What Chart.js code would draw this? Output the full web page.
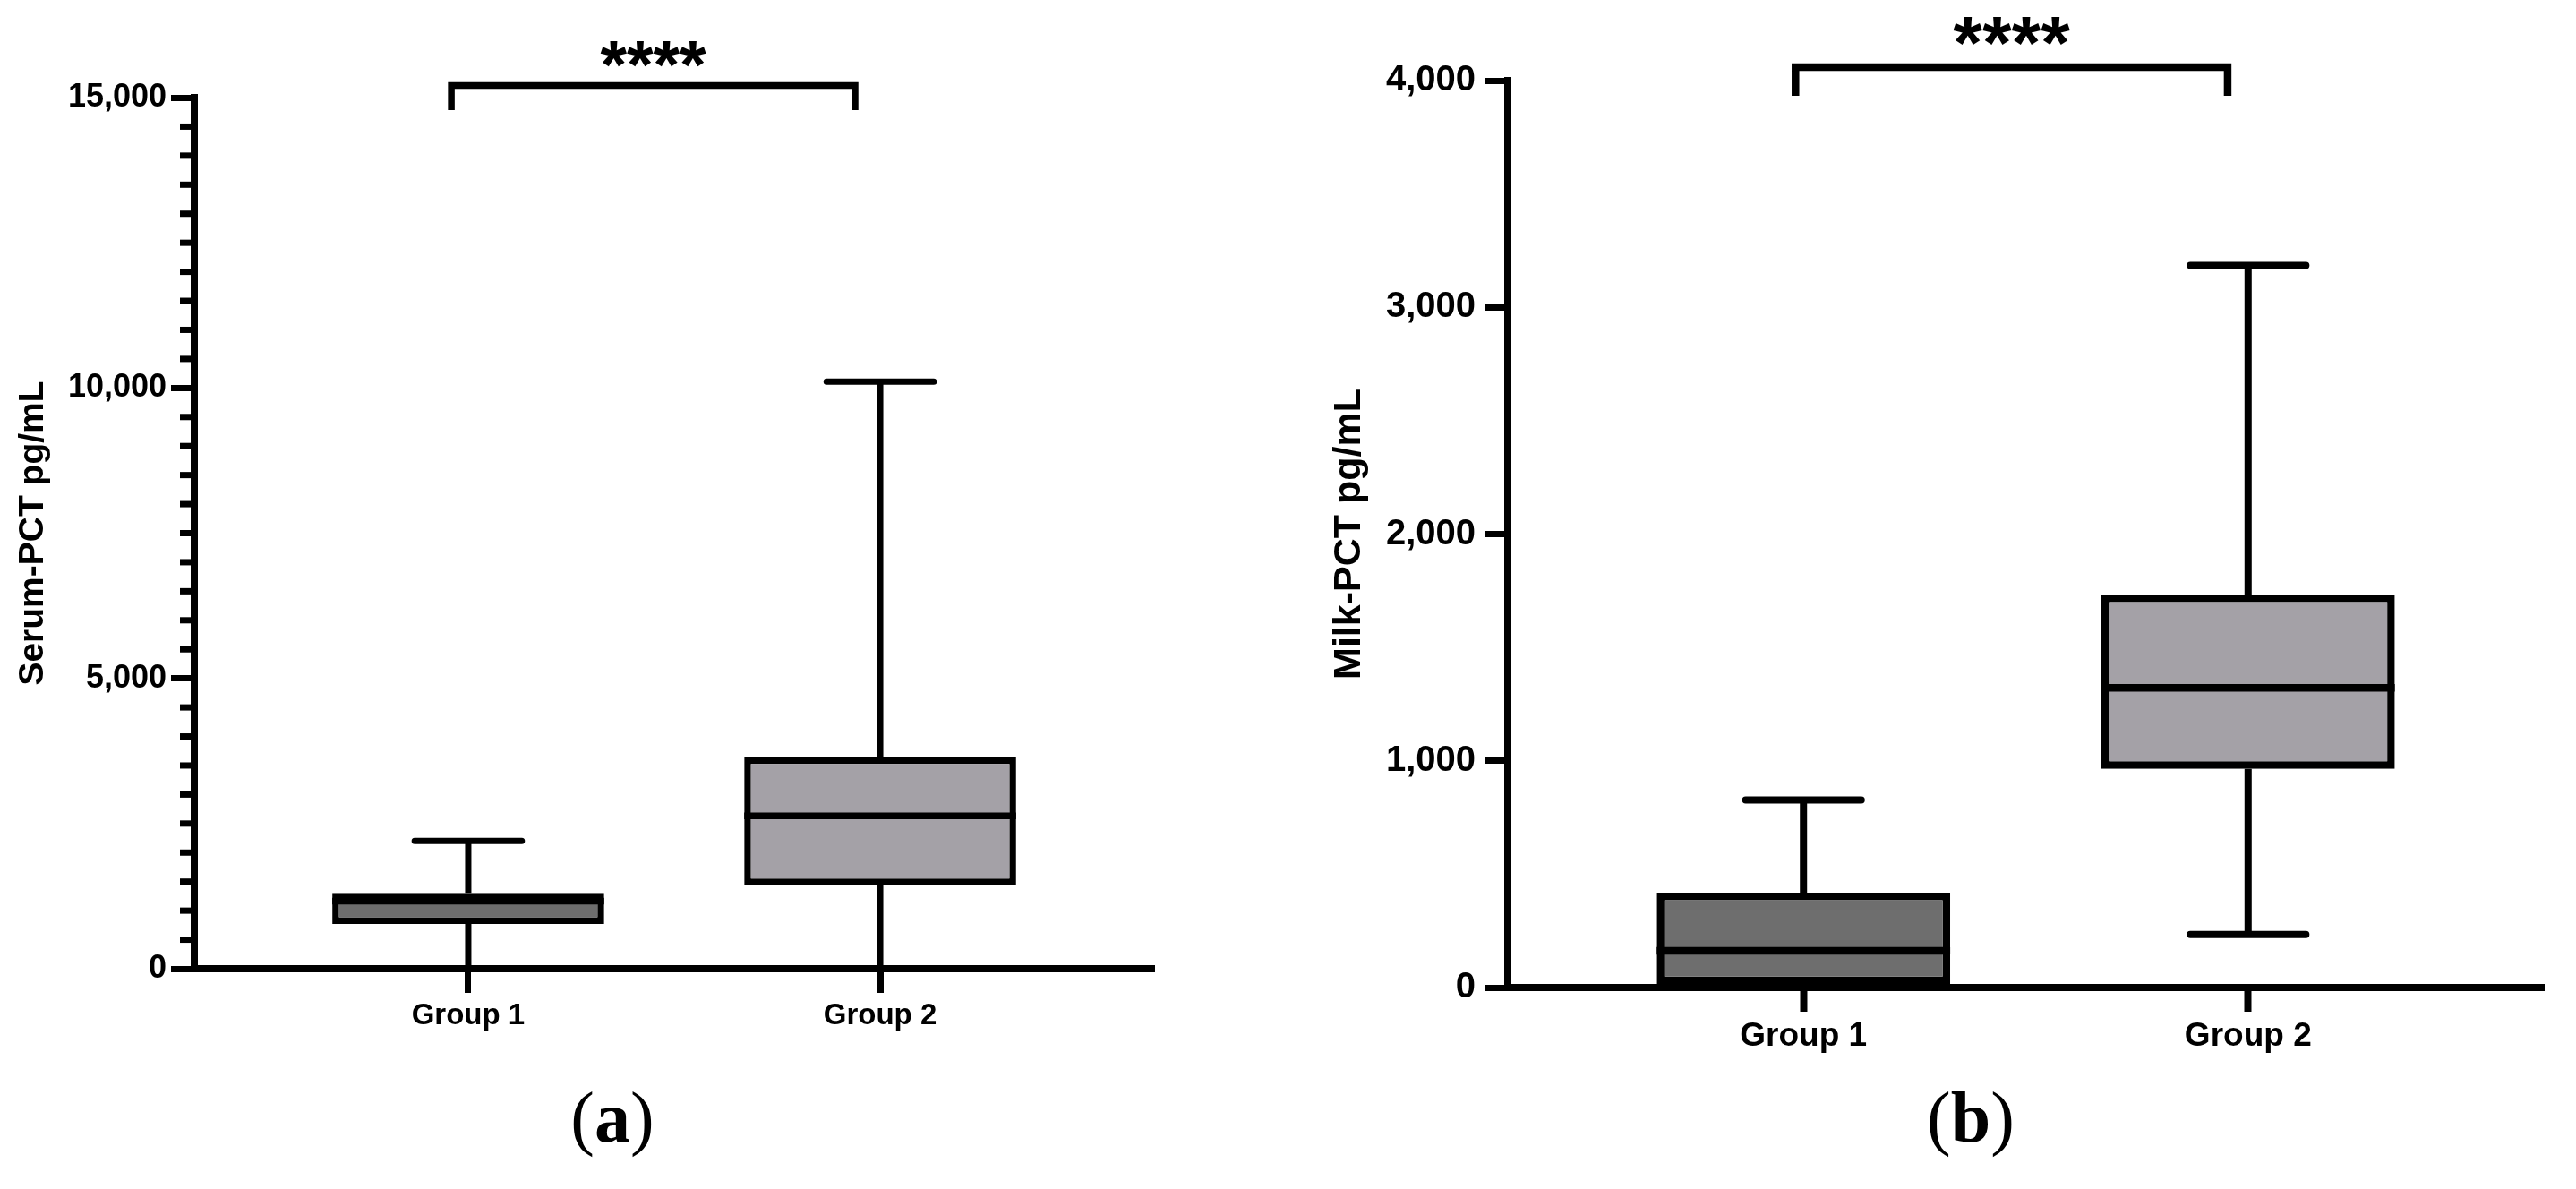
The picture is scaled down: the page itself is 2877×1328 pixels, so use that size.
<!DOCTYPE html>
<html>
<head>
<meta charset="utf-8">
<script src="https://cdn.jsdelivr.net/npm/chart.js@4.4.1/dist/chart.umd.min.js"></script>
<style>
  html, body { margin: 0; padding: 0; background: #fff; }
  body { width: 2877px; height: 1328px; position: relative; overflow: hidden; }
  canvas { position: absolute; top: 0; }
  #chartA { left: 0; }
  #chartB { left: 1450px; }
  .panel-label {
    position: absolute; width: 200px; text-align: center; color: #000;
    font-family: "Liberation Serif", "Times New Roman", serif;
    font-size: 80px; line-height: 80px;
  }
</style>
</head>
<body>
<canvas id="chartA" width="1450" height="1200"></canvas>
<canvas id="chartB" width="1427" height="1200"></canvas>
<div class="panel-label" style="left:584px; top:1208px;">(<b>a</b>)</div>
<div class="panel-label" style="left:2101px; top:1208px;">(<b>b</b>)</div>
<script>
const categories = ['Group 1', 'Group 2'];

// (a) Serum-PCT pg/mL
const serumMin = [0, 0];
const serumQ1 = [770, 1437];
const serumMedian = [1164, 2634];
const serumQ3 = [1308, 3642];
const serumMax = [2200, 10110];
const serumTicks = [0, 5000, 10000, 15000];

// (b) Milk-PCT pg/mL
const milkMin = [10, 234];
const milkQ1 = [15, 964];
const milkMedian = [162, 1322];
const milkQ3 = [419, 1733];
const milkMax = [827, 3185];
const milkTicks = [0, 1000, 2000, 3000, 4000];

// significance bracket: x in group units, y = [leg end, bar] in pg/mL
const serumBracketX = [0.959, 1.939];
const serumBracketY = [14784, 15208];
const milkBracketX = [0.982, 1.954];
const milkBracketY = [3933, 4059];
const sigLabel = '****';

const boxColors = ['#6e6e6e', '#a4a1a7'];
const fontFamily = '"Liberation Sans", Arial, sans-serif';

// short minor ticks on the y axis (left panel only)
const minorTicks = {
  id: 'minorTicks',
  afterDraw(chart, args, o) {
    if (!o.step) return;
    const { ctx, scales: { y }, chartArea } = chart;
    ctx.save();
    ctx.strokeStyle = '#000';
    ctx.lineWidth = o.width;
    for (let v = y.min + o.step; v < y.max; v += o.step) {
      if (v % o.major === 0) continue;
      const py = y.getPixelForValue(v);
      ctx.beginPath();
      ctx.moveTo(chartArea.left - o.len, py);
      ctx.lineTo(chartArea.left, py);
      ctx.stroke();
    }
    ctx.restore();
  }
};

// stars above the bracket
const sigStars = {
  id: 'sigStars',
  afterDatasetsDraw(chart, args, o) {
    const { ctx, scales: { x, y } } = chart;
    const cx = x.getPixelForValue((o.bx[0] + o.bx[1]) / 2);
    const cy = y.getPixelForValue(o.by[1]) - o.gap;
    ctx.save();
    ctx.font = 'bold ' + o.size + 'px ' + fontFamily;
    ctx.textAlign = 'center';
    ctx.textBaseline = 'alphabetic';
    ctx.fillStyle = '#000';
    ctx.fillText(sigLabel, cx, cy + 0.575 * o.size);
    ctx.restore();
  }
};

function drawPanel(id, p) {
  const xs = categories.map((c, i) => i + 1);
  const capHalf = 0.13, boxHalf = 0.33;
  const whiskers = [], caps = [], medians = [];
  xs.forEach((x, i) => {
    if (i > 0) {
      whiskers.push({ x: x - 0.5, y: null });
      caps.push({ x: x - 0.5, y: null });
      medians.push({ x: x - 0.5, y: null });
    }
    whiskers.push({ x, y: p.min[i] }, { x, y: p.q1[i] }, { x, y: null },
                  { x, y: p.q3[i] }, { x, y: p.max[i] });
    caps.push({ x: x - capHalf, y: p.max[i] }, { x: x + capHalf, y: p.max[i] }, { x, y: null },
              { x: x - capHalf, y: p.min[i] }, { x: x + capHalf, y: p.min[i] });
    medians.push({ x: x - boxHalf, y: p.median[i] }, { x: x + boxHalf, y: p.median[i] });
  });
  const bracket = [
    { x: p.bx[0], y: p.by[0] }, { x: p.bx[0], y: p.by[1] },
    { x: p.bx[1], y: p.by[1] }, { x: p.bx[1], y: p.by[0] }
  ];
  const lineBase = { type: 'line', borderColor: '#000', pointRadius: 0, pointHoverRadius: 0, tension: 0, fill: false };

  new Chart(document.getElementById(id), {
    type: 'line',
    data: {
      datasets: [
        { ...lineBase, data: medians, borderWidth: p.lw + 0.5, borderCapStyle: 'butt', order: 0 },
        {
          type: 'bar',
          data: xs.map((x, i) => ({ x, y: [p.q1[i], p.q3[i]] })),
          backgroundColor: boxColors, borderColor: '#000', borderWidth: p.lw + 0.5,
          borderSkipped: false, barPercentage: 0.66, categoryPercentage: 1, order: 1
        },
        { ...lineBase, data: whiskers, borderWidth: p.lw, borderCapStyle: 'butt', order: 2 },
        { ...lineBase, data: caps, borderWidth: p.lw, borderCapStyle: 'round', order: 2 },
        { ...lineBase, data: bracket, borderWidth: p.lw + 0.5, borderCapStyle: 'butt', borderJoinStyle: 'miter', clip: false, order: 2 }
      ]
    },
    options: {
      responsive: false,
      animation: false,
      devicePixelRatio: 1,
      events: [],
      layout: { padding: { left: 0, top: p.top, right: p.width - p.right, bottom: 0 } },
      plugins: {
        legend: { display: false },
        tooltip: { enabled: false },
        minorTicks: { step: p.minorStep, major: p.ticks[1], len: 16, width: 7 },
        sigStars: { bx: p.bx, by: p.by, gap: p.starGap, size: p.starSize }
      },
      scales: {
        x: {
          type: 'linear', min: 0.335, max: 2.665, offset: false,
          afterBuildTicks: s => { s.ticks = xs.map(v => ({ value: v })); },
          afterFit: s => { s.height = p.height - p.bottom; },
          border: { display: true, color: '#000', width: 8 },
          grid: { offset: false, drawOnChartArea: false, drawTicks: true, tickLength: 27, tickWidth: p.lw, tickColor: '#000' },
          ticks: {
            autoSkip: false, maxRotation: 0, color: '#000', padding: 6,
            font: { family: fontFamily, size: p.xFont, weight: 'bold' },
            callback: v => categories[v - 1]
          }
        },
        y: {
          min: 0, max: p.ticks[p.ticks.length - 1],
          afterBuildTicks: s => { s.ticks = p.ticks.map(v => ({ value: v })); },
          afterFit: s => { s.width = p.left; },
          border: { display: true, color: '#000', width: 8 },
          grid: { drawOnChartArea: false, drawTicks: true, tickLength: 26, tickWidth: 7, tickColor: '#000' },
          ticks: {
            color: '#000', padding: p.yPad,
            font: { family: fontFamily, size: p.yFont, weight: 'bold' },
            callback: v => v.toLocaleString('en-US')
          },
          title: {
            display: true, text: p.yTitle, color: '#000',
            font: { family: fontFamily, size: p.titleFont, weight: 'bold' },
            padding: { top: p.titlePad, bottom: 0 }
          }
        }
      }
    },
    plugins: [minorTicks, sigStars]
  });
}

drawPanel('chartA', {
  min: serumMin, q1: serumQ1, median: serumMedian, q3: serumQ3, max: serumMax,
  ticks: serumTicks, minorStep: 500, bx: serumBracketX, by: serumBracketY,
  yTitle: 'Serum-PCT pg/mL', width: 1450, height: 1200,
  left: 217, right: 1289, top: 109, bottom: 1082,
  lw: 7, xFont: 33, yFont: 36, titleFont: 39, titlePad: 14, yPad: 5,
  starGap: 41, starSize: 76
});

drawPanel('chartB', {
  min: milkMin, q1: milkQ1, median: milkMedian, q3: milkQ3, max: milkMax,
  ticks: milkTicks, minorStep: 0, bx: milkBracketX, by: milkBracketY,
  yTitle: 'Milk-PCT pg/mL', width: 1427, height: 1200,
  left: 234, right: 1391, top: 90, bottom: 1103,
  lw: 8, xFont: 37, yFont: 40, titleFont: 43, titlePad: 31, yPad: 10,
  starGap: 46, starSize: 84
});
</script>
</body>
</html>
